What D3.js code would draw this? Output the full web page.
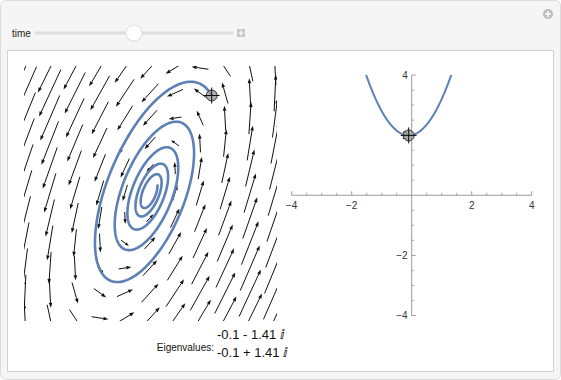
<!DOCTYPE html>
<html>
<head>
<meta charset="utf-8">
<script src="https://cdn.jsdelivr.net/npm/d3@7"></script>
<style>
  body { margin: 0; background: #fff; }
  text { font-family: "Liberation Sans", Arial, sans-serif; }
</style>
</head>
<body>
<div id="panel"></div>
<script>
// linear system x' = A x
const systemMatrix = [[0.9, -1.0], [3.0, -1.1]];
const startPoint = [1.48, 2.34];
const trajectoryTime = 22;
const fieldDomain = [-3, 3];
const fieldGrid = [-3, -2.4, -1.8, -1.2, -0.6, 0, 0.6, 1.2, 1.8, 2.4, 3];

// characteristic polynomial  λ² + 0.2λ + 2
const charPoly = [1, 0.2, 2];
const eigenPoint = [-0.1, 1.99];
const eigenvalueLabels = ["-0.1 - 1.41 \u2148", "-0.1 + 1.41 \u2148"];
const planeDomain = [-4, 4];
const planeTicks = [-4, -2, 2, 4];
const planeMinor = [-3.5, -3, -2.5, -1.5, -1, -0.5, 0.5, 1, 1.5, 2.5, 3, 3.5];

const sliderValue = 0.5;

const W = 561, H = 380;
const blue = "#5e81b5";

const svg = d3.select("#panel").append("svg")
  .attr("width", W).attr("height", H);

// ---- panel chrome ----
svg.append("rect").attr("x", 0.5).attr("y", 0.5).attr("width", W - 1).attr("height", H - 1)
  .attr("rx", 5).attr("fill", "#f5f5f5").attr("stroke", "#dcdcdc");
svg.append("rect").attr("x", 7.5).attr("y", 50.5).attr("width", 546).attr("height", 321)
  .attr("fill", "#fff").attr("stroke", "#d2d2d2");

// top right icon
svg.append("circle").attr("cx", 548).attr("cy", 14).attr("r", 5).attr("fill", "#bdbdbd");
svg.append("path").attr("d", "M545,14H551M548,11V17").attr("stroke", "#fff").attr("stroke-width", 1.5);

// slider
const sx = d3.scaleLinear([0, 1], [36, 232]);
svg.append("text").attr("x", 12).attr("y", 36.5).attr("font-size", 10).attr("fill", "#222").text("time");
svg.append("line").attr("x1", sx(0)).attr("x2", sx(1)).attr("y1", 33).attr("y2", 33)
  .attr("stroke", "#dedede").attr("stroke-width", 3).attr("stroke-linecap", "round");
svg.append("circle").attr("cx", sx(sliderValue)).attr("cy", 33.5).attr("r", 8.5)
  .attr("fill", "#e4e4e4").attr("opacity", 0.6);
svg.append("circle").attr("cx", sx(sliderValue)).attr("cy", 33).attr("r", 8)
  .attr("fill", "#fff").attr("stroke", "#d0d0d0").attr("stroke-width", 0.6);
svg.append("rect").attr("x", 237).attr("y", 29).attr("width", 8).attr("height", 8).attr("fill", "#c8c8c8");
svg.append("path").attr("d", "M238.5,33H243.5M241,30.5V35.5").attr("stroke", "#fff").attr("stroke-width", 1.2);

// ---- left: vector field + trajectory ----
const fx = d3.scaleLinear(fieldDomain, [25, 275]);
const fy = d3.scaleLinear(fieldDomain, [318, 68]);

svg.append("clipPath").attr("id", "fieldClip").append("rect")
  .attr("x", 24).attr("y", 66).attr("width", 253).attr("height", 255);
const field = svg.append("g").attr("clip-path", "url(#fieldClip)");

function velocity(p) {
  return [systemMatrix[0][0] * p[0] + systemMatrix[0][1] * p[1],
          systemMatrix[1][0] * p[0] + systemMatrix[1][1] * p[1]];
}

const gridPts = [];
fieldGrid.forEach(gx => fieldGrid.forEach(gy => gridPts.push([gx, gy])));
const vmax = d3.max(gridPts, p => Math.hypot(...velocity(p)));
const maxLen = 60;

gridPts.forEach(p => {
  const v = velocity(p);
  const m = Math.hypot(v[0], v[1]);
  if (m < 1e-9) return;
  const ux = v[0] / m, uy = -v[1] / m;
  const len = maxLen * Math.pow(m / vmax, 0.65);
  const cx = fx(p[0]), cy = fy(p[1]);
  const x0 = cx - ux * len / 2, y0 = cy - uy * len / 2;
  const x1 = cx + ux * len / 2, y1 = cy + uy * len / 2;
  const hl = Math.min(5, len * 0.4), hw = hl * 0.36;
  const bx = x1 - ux * hl, by = y1 - uy * hl;
  field.append("line").attr("x1", x0).attr("y1", y0).attr("x2", bx).attr("y2", by)
    .attr("stroke", "#111").attr("stroke-width", 1);
  field.append("path")
    .attr("d", `M${x1},${y1}L${bx - uy * hw},${by + ux * hw}L${bx + uy * hw},${by - ux * hw}Z`)
    .attr("fill", "#111");
});

// trajectory by RK4
const traj = [startPoint.slice()];
const dt = 0.02;
let p = startPoint.slice();
for (let t = 0; t < trajectoryTime; t += dt) {
  const k1 = velocity(p);
  const k2 = velocity([p[0] + dt / 2 * k1[0], p[1] + dt / 2 * k1[1]]);
  const k3 = velocity([p[0] + dt / 2 * k2[0], p[1] + dt / 2 * k2[1]]);
  const k4 = velocity([p[0] + dt * k3[0], p[1] + dt * k3[1]]);
  p = [p[0] + dt / 6 * (k1[0] + 2 * k2[0] + 2 * k3[0] + k4[0]),
       p[1] + dt / 6 * (k1[1] + 2 * k2[1] + 2 * k3[1] + k4[1])];
  traj.push(p);
}
field.append("path").datum(traj)
  .attr("d", d3.line().x(d => fx(d[0])).y(d => fy(d[1])))
  .attr("fill", "none").attr("stroke", blue).attr("stroke-width", 2.6);

function locator(g, x, y) {
  g.append("circle").attr("cx", x).attr("cy", y).attr("r", 5.5)
    .attr("fill", "#9a9a9a").attr("fill-opacity", 0.8).attr("stroke", "#333").attr("stroke-width", 1);
  g.append("path").attr("d", `M${x - 8},${y}H${x + 8}M${x},${y - 8}V${y + 8}`)
    .attr("stroke", "#111").attr("stroke-width", 1);
}
locator(svg, fx(startPoint[0]), fy(startPoint[1]));

// eigenvalue text
svg.append("text").attr("x", 214).attr("y", 351).attr("text-anchor", "end")
  .attr("font-size", 10).attr("fill", "#111").text("Eigenvalues:");
eigenvalueLabels.forEach((s, i) => {
  svg.append("text").attr("x", 217).attr("y", 339 + i * 18)
    .attr("font-size", 13).attr("fill", "#111").text(s);
});

// ---- right: characteristic polynomial ----
const px = d3.scaleLinear(planeDomain, [291.7, 531.7]);
const py = d3.scaleLinear(planeDomain, [315.5, 75]);
const axisCol = "#9a9a9a";

const plane = svg.append("g");
plane.append("line").attr("x1", px(-4)).attr("x2", px(4)).attr("y1", py(0)).attr("y2", py(0))
  .attr("stroke", axisCol);
plane.append("line").attr("x1", px(0)).attr("x2", px(0)).attr("y1", py(-4)).attr("y2", py(4))
  .attr("stroke", axisCol);

planeTicks.forEach(t => {
  plane.append("line").attr("x1", px(t)).attr("x2", px(t)).attr("y1", py(0)).attr("y2", py(0) - 4)
    .attr("stroke", axisCol);
  plane.append("line").attr("x1", px(0)).attr("x2", px(0) + 4).attr("y1", py(t)).attr("y2", py(t))
    .attr("stroke", axisCol);
  plane.append("text").attr("x", px(t)).attr("y", py(0) + 14).attr("text-anchor", "middle")
    .attr("font-size", 10).attr("fill", "#333").text(t < 0 ? "\u2212" + (-t) : t);
  plane.append("text").attr("x", px(0) - 4).attr("y", py(t) + 3.5).attr("text-anchor", "end")
    .attr("font-size", 10).attr("fill", "#333").text(t < 0 ? "\u2212" + (-t) : t);
});
planeMinor.forEach(t => {
  plane.append("line").attr("x1", px(t)).attr("x2", px(t)).attr("y1", py(0)).attr("y2", py(0) - 2.5)
    .attr("stroke", axisCol).attr("stroke-width", 0.8);
  plane.append("line").attr("x1", px(0)).attr("x2", px(0) + 2.5).attr("y1", py(t)).attr("y2", py(t))
    .attr("stroke", axisCol).attr("stroke-width", 0.8);
});

svg.append("clipPath").attr("id", "planeClip").append("rect")
  .attr("x", px(-4)).attr("y", py(4)).attr("width", px(4) - px(-4)).attr("height", py(-4) - py(4));
const polyPts = d3.range(-4, 4.001, 0.02).map(x => [x, charPoly[0] * x * x + charPoly[1] * x + charPoly[2]]);
svg.append("path").datum(polyPts).attr("clip-path", "url(#planeClip)")
  .attr("d", d3.line().x(d => px(d[0])).y(d => py(d[1])))
  .attr("fill", "none").attr("stroke", blue).attr("stroke-width", 2);

locator(svg, px(eigenPoint[0]), py(eigenPoint[1]));
</script>
</body>
</html>
